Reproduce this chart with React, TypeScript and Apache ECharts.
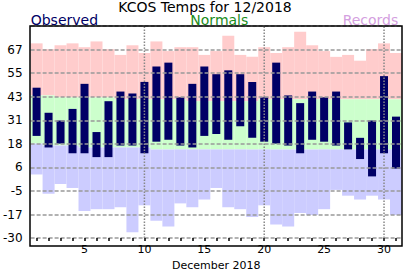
import React, { useEffect, useRef } from "react";
import * as echarts from "echarts";

const days = ["1","2","3","4","5","6","7","8","9","10","11","12","13","14","15","16","17","18","19","20","21","22","23","24","25","26","27","28","29","30","31"];

const recordHigh = [71,68,70,71,69,72,68,65,70,66,72,67,69,69,65,67,75,65,64,69,66,69,77,70,67,64,65,62,68,71,66];
const normalHigh = [44,44,43,43,43,43,43,42,42,42,42,42,42,41,41,41,41,41,41,42,42,42,42,42,42,42,42,42,42,42,42];
const normalLow = [19,18,18,18,17,17,17,17,17,17,16,16,16,16,16,16,16,16,16,16,16,16,16,16,16,16,16,16,16,16,16];
const recordLow = [3,-7,-2,-4,-16,-15,-15,-14,-27,-13,-21,-24,-12,-14,-10,-4,-14,-15,-19,-13,-23,-24,-17,-18,-15,-5,-8,-10,-8,-10,-18];

const obsHigh = [48,35,31,37,50,25,41,46,45,51,59,61,43,50,59,55,57,55,51,43,61,44,40,46,43,46,30,22,31,54,33];
const obsLow = [23,17,19,14,14,12,12,18,18,14,20,21,18,17,23,24,21,28,22,20,19,18,14,21,20,18,16,11,2,14,6];

const yMin = -30;
const yMax = 80;
const ySteps = 9;
const markedDays = ["10", "20", "30"];

const FONT = "DejaVu Sans";

export default function App() {
  const ref = useRef<HTMLDivElement>(null);
  useEffect(() => {
    const chart = echarts.init(ref.current!, null, { renderer: "svg" });

    const rangeSeries = (lo: number[], hi: number[], color: string, barWidth: number | null, z: number) => ({
      type: "custom",
      xAxisIndex: 0,
      yAxisIndex: 0,
      z,
      silent: true,
      data: days.map((_, i) => [i, lo[i], hi[i]]),
      encode: { x: 0, y: [1, 2] },
      renderItem: (params: any, api: any) => {
        const i = api.value(0);
        const pLo = api.coord([i, api.value(1)]);
        const pHi = api.coord([i, api.value(2)]);
        const full = api.size([1, 0])[0];
        const w = barWidth == null ? full : barWidth;
        return {
          type: "rect",
          shape: { x: pLo[0] - w / 2, y: pHi[1], width: w, height: pLo[1] - pHi[1] },
          style: { fill: color },
        };
      },
    });

    const option: any = {
      animation: false,
      grid: { left: 30, right: 10, top: 26, bottom: 30, containLabel: false },
      xAxis: {
        type: "category",
        data: days,
        boundaryGap: true,
        z: 10,
        axisLine: { show: false, onZero: false },
        axisTick: { show: true, alignWithLabel: true, interval: 0, length: 3, lineStyle: { color: "#000", width: 1.5 } },
        axisLabel: {
          interval: 0,
          formatter: (v: string) => (Number(v) % 5 === 0 ? v : ""),
          fontFamily: FONT,
          fontSize: 11,
          color: "#000",
          margin: 6,
        },
        splitLine: { show: false },
        name: "December 2018",
        nameLocation: "middle",
        nameGap: 16,
        nameTextStyle: { fontFamily: FONT, fontSize: 11, color: "#000" },
      },
      yAxis: [
        { type: "value", min: yMin, max: yMax, show: false, splitLine: { show: false } },
        {
          type: "value",
          min: 0,
          max: ySteps,
          interval: 1,
          position: "left",
          z: 10,
          axisLine: { show: false, onZero: false },
          axisTick: { show: false },
          axisLabel: {
            formatter: (v: number) => (v >= ySteps ? "" : String(Math.trunc(yMin + (v * (yMax - yMin)) / ySteps))),
            fontFamily: FONT,
            fontSize: 12,
            color: "#000",
            margin: 8,
          },
          splitLine: { show: true, lineStyle: { color: "#999", type: [4, 2], width: 1.5 } },
        },
      ],
      graphic: [
        { type: "text", x: 205, y: 6.5, style: { text: "KCOS Temps for 12/2018", font: `14px "${FONT}"`, fill: "#000", align: "center", verticalAlign: "middle" } },
        { type: "text", x: 30.7, y: 19.5, style: { text: "Observed", font: `14px "${FONT}"`, fill: "#000066", align: "left", verticalAlign: "middle" } },
        { type: "text", x: 219.3, y: 19.5, style: { text: "Normals", font: `14px "${FONT}"`, fill: "#1a8c1a", align: "center", verticalAlign: "middle" } },
        { type: "text", x: 398.3, y: 19.5, style: { text: "Records", font: `14px "${FONT}"`, fill: "#d4a0e0", align: "right", verticalAlign: "middle" } },
        { type: "rect", z: 100, shape: { x: 30, y: 26, width: 372, height: 220 }, style: { fill: "none", stroke: "#000", lineWidth: 1.5 } },
      ],
      series: [
        rangeSeries(normalHigh, recordHigh, "#ffcccc", null, 1),
        rangeSeries(normalLow, normalHigh, "#ccffcc", null, 1),
        rangeSeries(recordLow, normalLow, "#ccccff", null, 1),
        rangeSeries(obsLow, obsHigh, "#000066", 8, 2),
        {
          type: "custom",
          xAxisIndex: 0,
          yAxisIndex: 0,
          z: 5,
          silent: true,
          data: markedDays.map((d) => [d]),
          encode: { x: 0 },
          renderItem: (params: any, api: any) => {
            const d = api.value(0);
            const pBottom = api.coord([d, yMin]);
            const pTop = api.coord([d, yMax]);
            return {
              type: "line",
              shape: { x1: pBottom[0], y1: pBottom[1], x2: pTop[0], y2: pTop[1] },
              style: { stroke: "#888", lineWidth: 1.5, lineDash: [1.5, 1.5] },
            };
          },
        },
      ],
    };
    chart.setOption(option);
    return () => chart.dispose();
  }, []);
  return <div ref={ref} style={{ position: "absolute", left: 0, top: 0, width: 412, height: 276, background: "#fff" }} />;
}
